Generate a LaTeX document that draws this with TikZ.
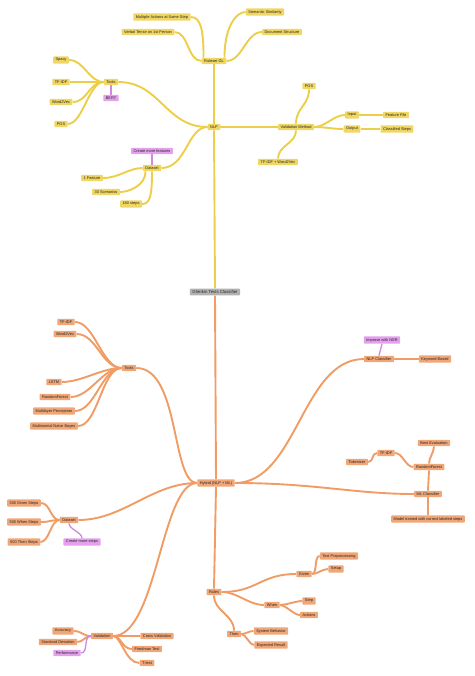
\documentclass[tikz,border=0pt]{standalone}
\usepackage{fontspec}
\setmainfont{Liberation Sans}
\usetikzlibrary{positioning,backgrounds}
\definecolor{ybox}{RGB}{240,214,98}
\definecolor{yedge}{RGB}{236,206,72}
\definecolor{obox}{RGB}{240,166,118}
\definecolor{oedge}{RGB}{240,156,100}
\definecolor{pbox}{RGB}{228,160,236}
\definecolor{pedge}{RGB}{210,135,225}
\definecolor{gbox}{RGB}{178,178,178}

\begin{document}
\begin{tikzpicture}[x=1pt,y=1pt,yscale=-1,
    box/.style={rounded corners=0.8pt, inner xsep=2.5pt, inner ysep=1.8pt, font=\fontsize{3.9}{4.3}\selectfont, text=black!85},
    ynode/.style={box, fill=ybox},
    onode/.style={box, fill=obox},
    pnode/.style={box, fill=pbox},
    yline/.style={draw=yedge, line width=1.9pt},
    oline/.style={draw=oedge, line width=1.9pt},
    pline/.style={draw=pedge, line width=1.3pt}]
    \useasboundingbox (0,0) rectangle (474,676);

    %Root
    \node [box, fill=gbox, font=\fontsize{4.3}{4.7}\selectfont] (gtc) at (215,292) {Gherkin Tests Classifier};

    %NLP branch (yellow)
    \node [ynode] (nlp) at (214,127) {NLP};
    \node [ynode] (rgl) at (214,61) {Ruleset GL};
    \node [ynode] (mas) at (162,17) {Multiple Actions at Same Step};
    \node [ynode] (vtp) at (148,32) {Verbal Tense on 1st Person};
    \node [ynode] (sems) at (265,12) {Semantic Similarity};
    \node [ynode] (docs) at (282,32) {Document Structure};
    \node [ynode] (ytools) at (111,82) {Tools};
    \node [pnode] (bert) at (111,98) {BERT};
    \node [ynode] (spacy) at (61,60) {Spacy};
    \node [ynode] (ytfidf) at (61,82) {TF-IDF};
    \node [ynode] (yw2v) at (61,102) {Word2Vec};
    \node [ynode] (ypos) at (61,124) {POS};
    \node [ynode] (vm) at (296,127) {Validation Method};
    \node [ynode] (vpos) at (309,86) {POS};
    \node [ynode] (tfw) at (278,162) {TF-IDF + Word2Vec};
    \node [ynode] (inp) at (352,115) {Input};
    \node [ynode] (outp) at (352,129) {Output};
    \node [ynode] (ffile) at (396,115) {Feature File};
    \node [ynode] (csteps) at (397,129) {Classified Steps};
    \node [ynode] (yds) at (152,168) {Dataset};
    \node [pnode] (cmf) at (152,151) {Create more features};
    \node [ynode] (feat) at (92,178) {1 Feature};
    \node [ynode] (scen) at (106,192) {30 Scenarios};
    \node [ynode] (steps) at (131,204) {180 steps};

    %Hybrid branch (orange)
    \node [onode] (hyb) at (216,483) {Hybrid (NLP + ML)};
    \node [onode] (otools) at (129,368) {Tools};
    \node [onode] (otfidf) at (66,322) {TF-IDF};
    \node [onode] (ow2v) at (65,334) {Word2Vec};
    \node [onode] (lstm) at (54,382) {LSTM};
    \node [onode] (orf) at (55,397) {RandomForest};
    \node [onode] (mlp) at (54,411) {Multilayer Perceptron};
    \node [onode] (mnb) at (54,426) {Multinomial Naive Bayes};
    \node [onode] (nlpc) at (379,359) {NLP Classifier};
    \node [pnode] (ner) at (382,340) {Improve with NER};
    \node [onode] (kwb) at (435,359) {Keyword Based};
    \node [onode] (mlc) at (428,494) {ML Classifier};
    \node [onode] (mrf) at (429,467) {RandomForest};
    \node [onode] (best) at (434,443) {Best Evaluation};
    \node [onode] (mtfidf) at (386,453) {TF-IDF};
    \node [onode] (tok) at (357,462) {Tokenizer};
    \node [onode] (mtr) at (428,519) {Model trained with correct labeled steps};
    \node [onode] (ods) at (69,520) {Dataset};
    \node [onode] (given5) at (24,503) {500 Given Steps};
    \node [onode] (when5) at (24,522) {500 When Steps};
    \node [onode] (then5) at (24,542) {500 Then Steps};
    \node [pnode] (cms) at (82,542) {Create more steps};
    \node [onode] (rules) at (214,592) {Rules};
    \node [onode] (given) at (304,574) {Given};
    \node [onode] (tpre) at (339,556) {Text Preprocessing};
    \node [onode] (setup) at (336,569) {Setup};
    \node [onode] (when) at (272,605) {When};
    \node [onode] (step) at (309,601) {Step};
    \node [onode] (act) at (309,615) {Actions};
    \node [onode] (then) at (234,634) {Then};
    \node [onode] (sysb) at (271,631) {System Behavior};
    \node [onode] (expr) at (271,645) {Expected Result};
    \node [onode] (val) at (102,636) {Validation};
    \node [onode] (acc) at (63,631) {Accuracy};
    \node [onode] (stdd) at (58,642) {Standard Deviation};
    \node [pnode] (perf) at (67,653) {Performance};
    \node [onode] (cval) at (157,636) {Cross Validation};
    \node [onode] (fried) at (147,649) {Friedman Test};
    \node [onode] (ttest) at (147,663) {T-test};

    \begin{scope}[on background layer]
    %Yellow connectors
    \draw [yline] (gtc.north) -- (nlp.south);
    \draw [yline] (nlp.north) -- (rgl.south);
    \draw [yline] (mas.east) .. controls +(10,0) and +(0,-28) .. ([xshift=2pt]rgl.north west);
    \draw [yline] (vtp.east) .. controls +(14,0) and +(-14,0) .. (rgl.west);
    \draw [yline] ([xshift=-2pt]rgl.north east) .. controls +(0,-30) and +(-10,0) .. (sems.west);
    \draw [yline] (rgl.east) .. controls +(16,0) and +(-16,0) .. (docs.west);
    \foreach \c in {spacy,ytfidf,yw2v,ypos}
        \draw [yline] (ytools.west) .. controls +(-15,0) and +(15,0) .. (\c.east);
    \draw [pline] (ytools.south) -- (bert.north);
    \draw [yline] (ytools.east) .. controls +(42,0) and +(-42,0) .. (nlp.west);
    \draw [yline] (nlp.east) -- (vm.west);
    \draw [yline] (vm.north) .. controls +(0,-16) and +(0,16) .. (vpos.south);
    \draw [yline] (vm.south) .. controls +(0,13) and +(0,-13) .. (tfw.north);
    \draw [yline] (vm.east) .. controls +(11,0) and +(-11,0) .. (inp.west);
    \draw [yline] (vm.east) .. controls +(11,0) and +(-11,0) .. (outp.west);
    \draw [yline] (inp.east) -- (ffile.west);
    \draw [yline] (outp.east) -- (csteps.west);
    \draw [yline] (yds.east) .. controls +(25,0) and +(-20,0) .. (nlp.west);
    \draw [pline] (yds.north) -- (cmf.south);
    \draw [yline] (yds.west) .. controls +(-14,0) and +(16,0) .. (feat.east);
    \draw [yline] ([xshift=3pt]yds.south west) .. controls +(0,14) and +(9,0) .. (scen.east);
    \draw [yline] (yds.south) .. controls +(0,24) and +(8,0) .. (steps.east);

    %Orange connectors
    \draw [oline] (gtc.south) -- (hyb.north);
    \draw [oline] (otools.east) .. controls +(44,0) and +(-26,0) .. (hyb.west);
    \foreach \c in {otfidf,ow2v,lstm,orf,mlp,mnb}
        \draw [oline] (otools.west) .. controls +(-20,0) and +(20,0) .. (\c.east);
    \draw [oline] (hyb.east) .. controls +(62,0) and +(-62,0) .. (nlpc.west);
    \draw [pline] (nlpc.north) -- (ner.south);
    \draw [oline] (nlpc.east) -- (kwb.west);
    \draw [oline] (hyb.east) .. controls +(80,0) and +(-60,0) .. (mlc.west);
    \draw [oline] (mlc.north) -- (mrf.south);
    \draw [oline] (mrf.north) .. controls +(0,-6) and +(0,6) .. (best.south);
    \draw [oline] (mrf.west) .. controls +(-8,0) and +(8,0) .. (mtfidf.east);
    \draw [oline] (mtfidf.west) .. controls +(-6,0) and +(6,0) .. (tok.east);
    \draw [oline] (mlc.south) -- (mtr.north);
    \draw [oline] (ods.east) .. controls +(45,0) and +(-45,0) .. (hyb.west);
    \foreach \c in {given5,when5,then5}
        \draw [oline] (ods.west) .. controls +(-9,0) and +(9,0) .. (\c.east);
    \draw [pline] (ods.south) .. controls +(0,6) and +(0,-6) .. (cms.north);
    \draw [oline] (hyb.south) -- (rules.north);
    \draw [oline] (rules.east) .. controls +(36,0) and +(-36,0) .. (given.west);
    \draw [oline] (rules.east) .. controls +(16,0) and +(-16,0) .. (when.west);
    \draw [oline] (rules.south) .. controls +(0,16) and +(0,-16) .. (then.north);
    \foreach \c in {tpre,setup}
        \draw [oline] (given.east) .. controls +(6,0) and +(-6,0) .. (\c.west);
    \foreach \c in {step,act}
        \draw [oline] (when.east) .. controls +(6,0) and +(-6,0) .. (\c.west);
    \foreach \c in {sysb,expr}
        \draw [oline] (then.east) .. controls +(5,0) and +(-5,0) .. (\c.west);
    \draw [oline] (val.east) .. controls +(44,0) and +(-36,0) .. (hyb.west);
    \draw [oline] (val.west) .. controls +(-8,0) and +(8,0) .. (acc.east);
    \draw [oline] (val.west) .. controls +(-6,0) and +(6,0) .. (stdd.east);
    \draw [pline] (val.west) .. controls +(-8,0) and +(8,0) .. (perf.east);
    \draw [oline] (val.east) -- (cval.west);
    \draw [oline] (val.east) .. controls +(8,0) and +(-10,0) .. (fried.west);
    \draw [oline] (val.east) .. controls +(8,0) and +(-14,0) .. (ttest.west);
    \end{scope}
\end{tikzpicture}
\end{document}
